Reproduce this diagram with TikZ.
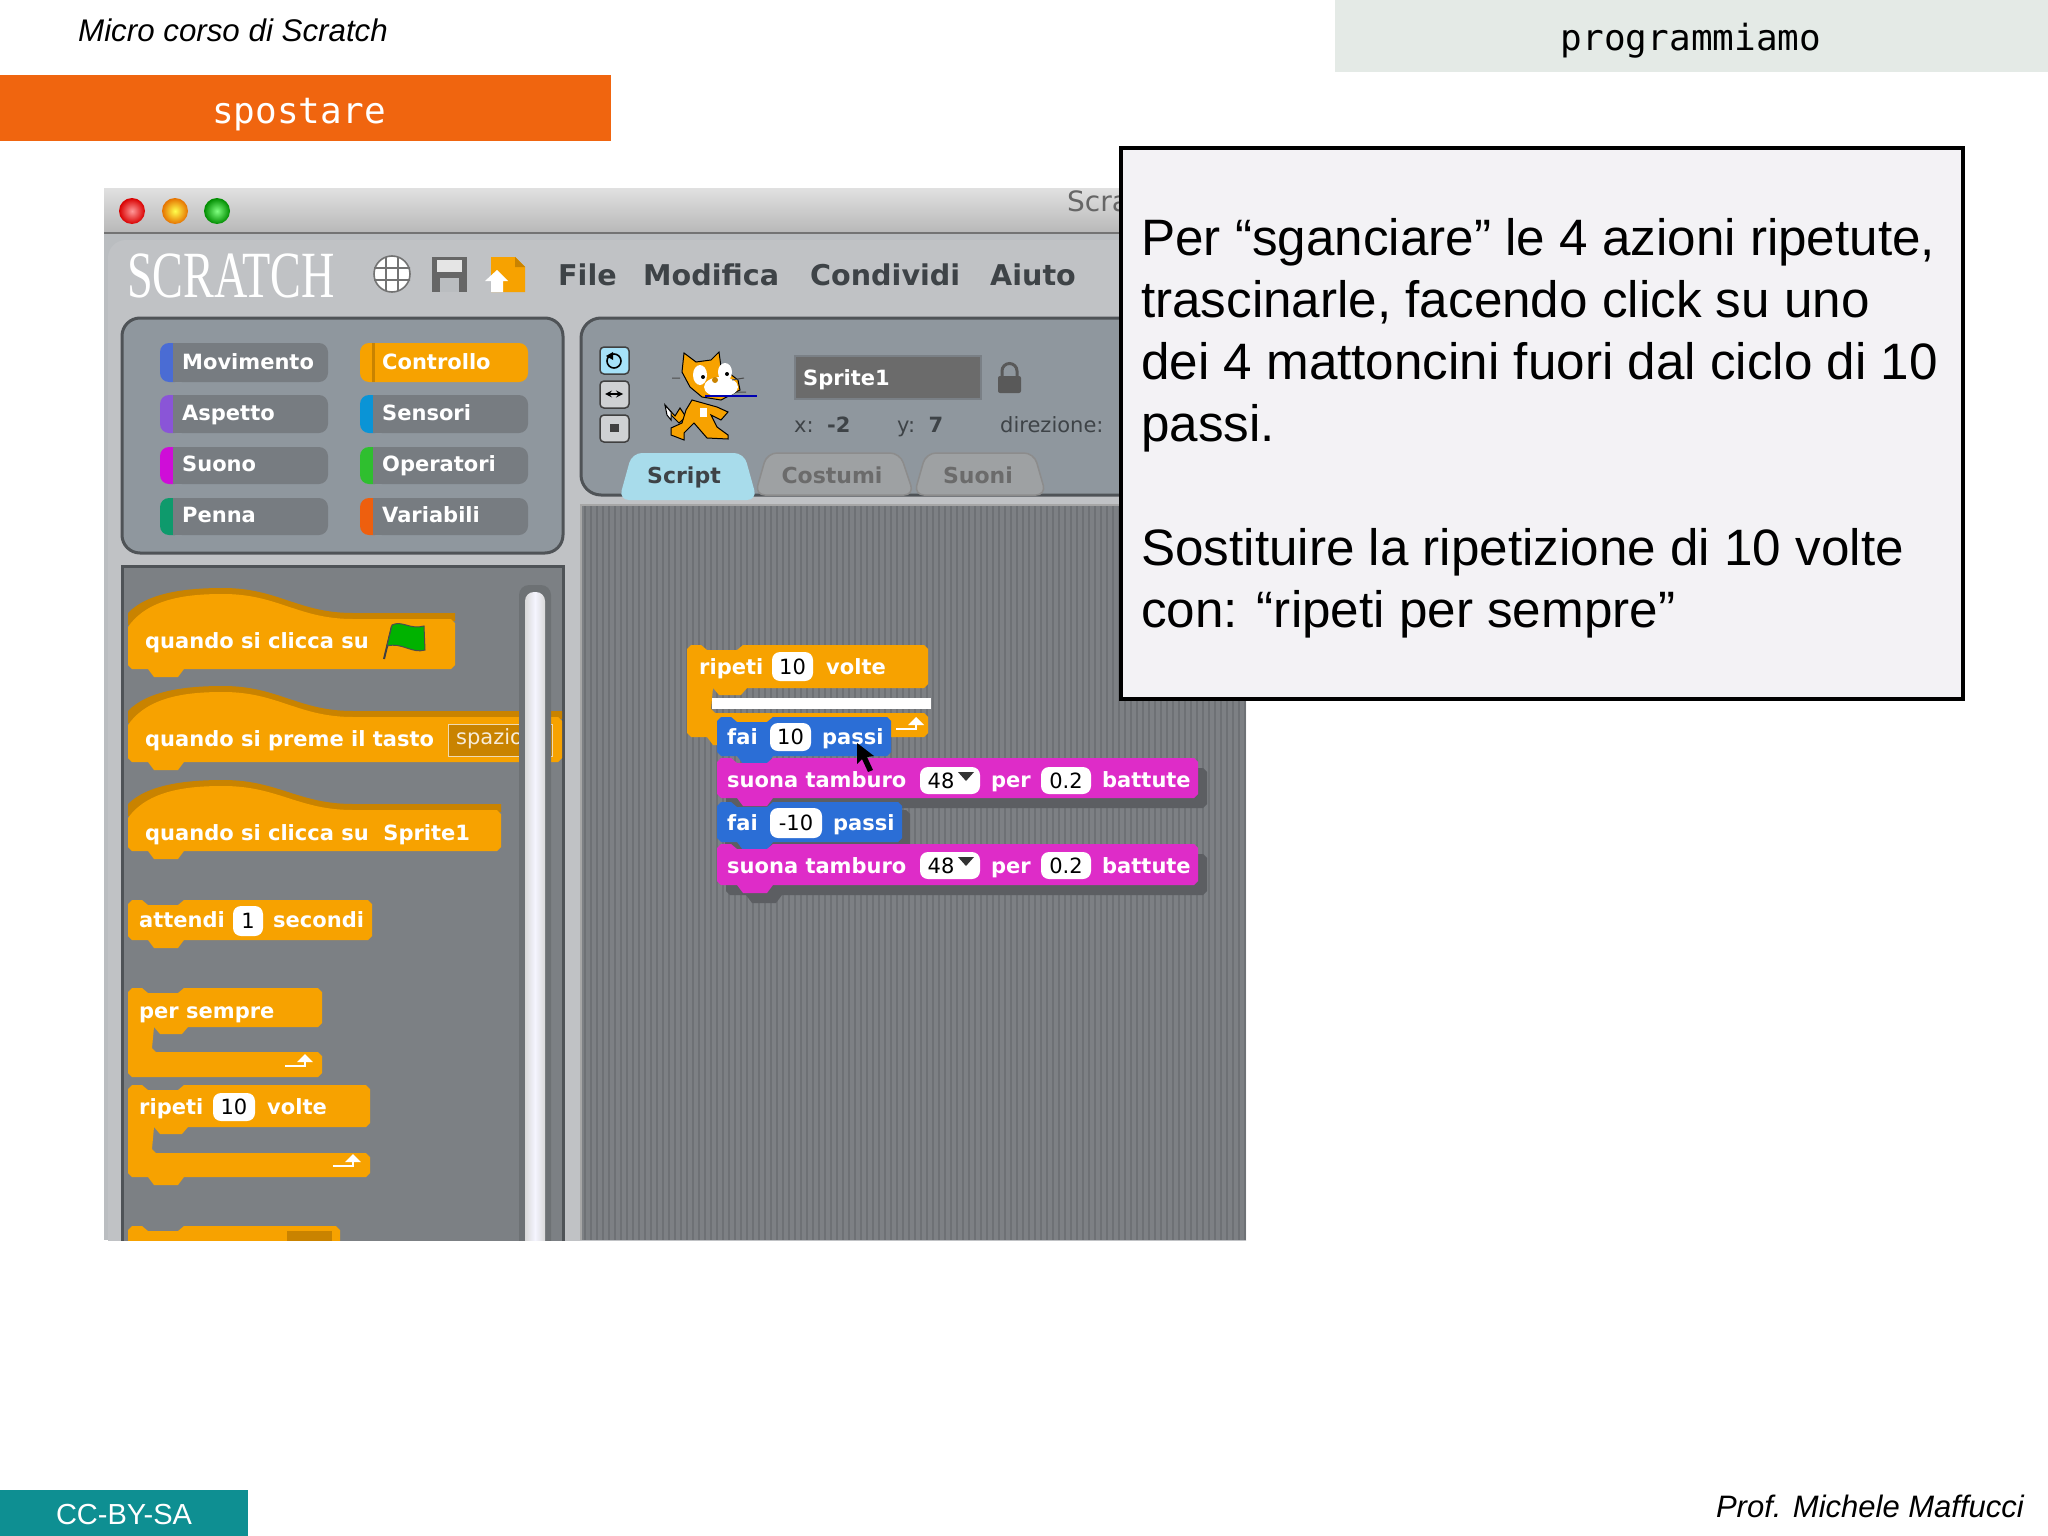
\documentclass[tikz,border=0pt]{standalone}
\usepackage{fontspec}
\usepackage{graphicx}
\setmainfont{Liberation Sans}
\newfontfamily\ui{DejaVu Sans}
\newfontfamily\mono{DejaVu Sans Mono}
\newfontfamily\logo{Liberation Serif}
\definecolor{orbar}{HTML}{F0650F}
\definecolor{topbar}{HTML}{E4EAE6}
\definecolor{teal}{HTML}{0E8F92}
\definecolor{boxfill}{HTML}{F3F2F5}
\definecolor{chrome}{HTML}{BABDC0}
\definecolor{panel}{HTML}{8F979E}
\definecolor{btn}{HTML}{777C81}
\definecolor{blockpanel}{HTML}{7C8084}
\definecolor{pane}{HTML}{7D8084}
\definecolor{stripe}{HTML}{6E7175}
\definecolor{ctl}{HTML}{F7A200}
\definecolor{rim}{HTML}{C98300}
\definecolor{mot}{HTML}{2B6ED6}
\definecolor{snd}{HTML}{DE2CC8}
\definecolor{shd}{HTML}{5C5E62}
\definecolor{inktxt}{HTML}{3E4347}
\definecolor{catmot}{HTML}{4A6CD4}
\definecolor{catlook}{HTML}{8A55D7}
\definecolor{catsnd}{HTML}{CF0DD8}
\definecolor{catpen}{HTML}{0E9A6C}
\definecolor{catsen}{HTML}{0A94D6}
\definecolor{catop}{HTML}{2FBF2F}
\definecolor{catvar}{HTML}{EE5F0E}
\definecolor{tabon}{HTML}{A8DCEB}
\newcounter{lc}\newcounter{fc}
\tikzset{
  ui/.style={inner sep=0pt,anchor=base west,text=white,font=\ui\bfseries\fontsize{21}{21}\selectfont},
  plainui/.style={ui,font=\ui\fontsize{21}{21}\selectfont,text=inktxt},
  menuitem/.style={ui,font=\ui\bfseries\fontsize{28.6}{29}\selectfont,text=inktxt},
  tablab/.style={ui,anchor=base,font=\ui\bfseries\fontsize{22}{22}\selectfont},
  numfld/.style={fill=white,rounded corners=8pt,inner sep=0pt,text=black,font=\ui\fontsize{21}{21}\selectfont},
  palbtn/.style={fill=btn,rounded corners=9pt},
  toolbtn/.style={draw=black!75,line width=1.5pt,rounded corners=4pt,fill=chrome!70!white},
  panelframe/.style={draw=panel!55!black,line width=3pt,fill=panel},
  slidetext/.style={inner sep=0pt,anchor=north west,align=left,text=black,font=\fontsize{51.2}{62}\selectfont},
}
\newcommand{\lab}[4][ui]{\stepcounter{lc}\node[#1] (l\thelc) at (#2,#3+7.5) {#4};}
\newcommand{\fld}[5]{\stepcounter{fc}\node[numfld,minimum width={#3-#1},minimum height={#4-#2}] (f\thefc) at ({(#1+#3)/2},{(#2+#4)/2}) {#5};}
\newcommand{\stackblock}[5]{\path[#5] (#1+4,#2)--(#1+14,#2)--(#1+20,#2+5)--(#1+50,#2+5)--(#1+56,#2)--(#3-4,#2)--(#3,#2+4)--(#3,#4-4)--(#3-4,#4)--(#1+56,#4)--(#1+50,#4+8)--(#1+26,#4+8)--(#1+20,#4)--(#1+4,#4)--(#1,#4-4)--(#1,#2+4)--cycle;}
\newcommand{\cblock}[6]{\path[fill=ctl] (#1+4,#2)--(#1+14,#2)--(#1+20,#2+5)--(#1+50,#2+5)--(#1+56,#2)--(#3-4,#2)--(#3,#2+4)--(#3,#4-4)--(#3-4,#4)--(#1+60,#4)--(#1+54,#4+7)--(#1+32,#4+7)--(#1+26,#4)--(#1+24,#5-4)--(#1+28,#5)--(#3-4,#5)--(#3,#5+4)--(#3,#6-4)--(#3-4,#6)--(#1+56,#6)--(#1+50,#6+8)--(#1+26,#6+8)--(#1+20,#6)--(#1+4,#6)--(#1,#6-4)--(#1,#2+4)--cycle;}
\newcommand{\foreverblock}[6]{\path[fill=ctl] (#1+4,#2)--(#1+14,#2)--(#1+20,#2+5)--(#1+50,#2+5)--(#1+56,#2)--(#3-4,#2)--(#3,#2+4)--(#3,#4-4)--(#3-4,#4)--(#1+60,#4)--(#1+54,#4+7)--(#1+32,#4+7)--(#1+26,#4)--(#1+24,#5-4)--(#1+28,#5)--(#3-4,#5)--(#3,#5+4)--(#3,#6-4)--(#3-4,#6)--(#1+4,#6)--(#1,#6-4)--(#1,#2+4)--cycle;}
\newcommand{\hatblock}[5]{%
 \fill[rim] (#1,#3) .. controls (#1+20,#2+4) and (#1+60,#2) .. (#1+95,#2) .. controls (#1+150,#2) and (#1+170,#3) .. (#1+225,#3) -- (#4,#3) -- (#4,#3+8) -- (#1,#3+12) -- cycle;
 \fill[ctl] (#1,#3+14) .. controls (#1+20,#2+10) and (#1+60,#2+6) .. (#1+95,#2+6) .. controls (#1+150,#2+6) and (#1+170,#3+6) .. (#1+225,#3+6) -- (#4-4,#3+6) -- (#4,#3+10) -- (#4,#5-4) -- (#4-4,#5) -- (#1+56,#5) -- (#1+50,#5+8) -- (#1+26,#5+8) -- (#1+20,#5) -- (#1+4,#5) -- (#1,#5-4) -- cycle;}
\newcommand{\loopar}[2]{\draw[white,line width=2.5pt] (#1,#2)--(#1+20,#2)--(#1+20,#2-5); \fill[white] (#1+12,#2-4)--(#1+20,#2-12)--(#1+28,#2-4)--cycle;}
\newcommand{\palette}[5]{\fill[#5,rounded corners=9pt] (#1,#2) rectangle (#1+24,#4); \fill[btn,rounded corners=9pt] (#1+13,#2) rectangle (#3,#4); \fill[btn] (#1+13,#2) rectangle (#1+24,#4);}
\begin{document}
\begin{tikzpicture}[x=1pt,y=-1pt]
\useasboundingbox (0,0) rectangle (2048,1536);
\fill[white] (0,0) rectangle (2048,1536);
% header and footer
\fill[orbar] (0,75) rectangle (611,141);
\fill[topbar] (1335,0) rectangle (2048,72);
\fill[teal] (0,1490) rectangle (248,1536);
\node[inner sep=0pt,anchor=west,font=\itshape\fontsize{31.3}{32}\selectfont] (course) at (78,30) {Micro corso di Scratch};
\node[inner sep=0pt,text=white,font=\mono\fontsize{36}{36}\selectfont] (topic) at (299,115) {spostare};
\node[inner sep=0pt,font=\mono\fontsize{36}{36}\selectfont] (section) at (1691,41) {programmiamo};
\node[inner sep=0pt,text=white,font=\fontsize{29}{29}\selectfont] (licence) at (124,1515) {CC-BY-SA};
\node[inner sep=0pt,anchor=east,font=\itshape\fontsize{31}{32}\selectfont] (author) at (2024,1506) {Prof. Michele Maffucci};
% screenshot
\begin{scope}
\clip (104,188) rectangle (1246,1240);
\fill[chrome] (104,188) rectangle (1246,1240);
\shade[top color=white!88!black,bottom color=black!28] (104,188) rectangle (1246,233);
\draw[black!55,line width=2pt] (104,233) -- (1246,233);
\shade[inner color=red!40!white,outer color=red!85!black] (132,211) circle (13);
\shade[inner color=yellow!70!white,outer color=orange!90!black] (175,211) circle (13);
\shade[inner color=green!50!white,outer color=green!55!black] (217,211) circle (13);
\lab[{ui,font=\ui\fontsize{28}{28}\selectfont,text=black!60}]{1067}{204}{Scra}
\fill[chrome!92!white,rounded corners=18pt] (108,240) rectangle (1246,1260);
% logo
\node[inner sep=0pt,text=white,font=\logo\fontsize{66}{66}\selectfont] (scratchlogo) at (231,276) {\scalebox{0.70}[1]{SCRATCH}};
% toolbar icons
\fill[white] (392,274) circle (18);
\draw[black!55,line width=1.6pt] (392,274) circle (18) (374,268)--(410,268) (374,280)--(410,280) (386,257)--(386,291) (398,257)--(398,291);
\fill[black!60] (432,257) rectangle (467,292);
\fill[white!90!black] (437,260) rectangle (462,272);
\fill[chrome] (440,278) rectangle (459,292);
\fill[ctl] (491,257)--(515,257)--(525,267)--(525,292)--(491,292)--cycle;
\fill[rim] (515,257)--(525,267)--(515,267)--cycle;
\fill[white] (485,281)--(497,270)--(508,281)--(503,281)--(503,292)--(491,292)--(491,281)--cycle;
% menu
\lab[menuitem]{558}{278}{File}
\lab[menuitem]{643}{278}{Modifica}
\lab[menuitem]{810}{278}{Condividi}
\lab[menuitem]{990}{278}{Aiuto}
% palette
\path[panelframe,rounded corners=18pt] (122,553)--(122,318)--(563,318)--(563,553)--cycle;
\palette{160}{343}{328}{382}{catmot}
\palette{160}{395}{328}{433}{catlook}
\palette{160}{447}{328}{484}{catsnd}
\palette{160}{498}{328}{535}{catpen}
\fill[ctl,rounded corners=9pt] (360,343) rectangle (528,382);
\fill[rim] (372,343) rectangle (375,382);
\palette{360}{395}{528}{433}{catsen}
\palette{360}{447}{528}{484}{catop}
\palette{360}{498}{528}{535}{catvar}
\lab{182}{362}{Movimento}
\lab{182}{413}{Aspetto}
\lab{182}{464}{Suono}
\lab{182}{515}{Penna}
\lab{382}{362}{Controllo}
\lab{382}{413}{Sensori}
\lab{382}{464}{Operatori}
\lab{382}{515}{Variabili}
% block palette
\draw[panel!55!black,line width=3pt,fill=blockpanel] (122,1260) -- (122,566) -- (563,566) -- (563,1260);
\hatblock{128}{588}{613}{455}{669}
\lab{145}{641}{quando si clicca su}
\draw[black!75,line width=2pt] (384,659) -- (392,626);
\path[fill=green!70!black,draw=black!70,line width=1pt] (392,625) .. controls (402,620) and (410,630) .. (424,626) -- (425,650) .. controls (412,654) and (402,642) .. (387,646) -- cycle;
\hatblock{128}{686}{711}{562}{762}
\lab{145}{739}{quando si preme il tasto}
\path[fill=rim,draw=white!70!rim,line width=1pt] (448,724) rectangle (552,756);
\lab[{plainui,text=white!85!rim}]{456}{737}{spazio}
\hatblock{128}{780}{804}{501}{851}
\lab{145}{833}{quando si clicca su\ \ Sprite1}
\stackblock{128}{900}{372}{940}{fill=ctl}
\lab{139}{920}{attendi}
\fld{233}{906}{263}{936}{1}
\lab{273}{920}{secondi}
\foreverblock{128}{988}{322}{1027}{1052}{1077}
\lab{139}{1011}{per sempre}
\loopar{285}{1066}
\cblock{128}{1085}{370}{1127}{1153}{1177}
\lab{139}{1107}{ripeti}
\fld{213}{1093}{255}{1121}{10}
\lab{267}{1107}{volte}
\loopar{333}{1166}
\stackblock{128}{1226}{340}{1290}{fill=ctl}
\fill[rim] (287,1231) rectangle (332,1260);
% scrollbar
\fill[black!12!blockpanel,rounded corners=10pt] (519,585) rectangle (551,1270);
\shade[left color=black!15,right color=black!15,middle color=white!96!blue,rounded corners=9pt] (525,592) rectangle (545,1270);
% sprite panel
\path[panelframe,rounded corners=20pt] (581,495)--(581,318)--(1300,318)--(1300,495)--cycle;
\path[toolbtn,fill=cyan!35!white] (600,347) rectangle (629,374);
\path[toolbtn] (600,381) rectangle (629,408);
\path[toolbtn] (600,415) rectangle (629,442);
\draw[black,line width=1.6pt] (614,361) circle (7);
\fill[black] (606,356)--(613,352)--(613,360)--cycle;
\draw[black,line width=2pt,<->,>=stealth] (605,394)--(623,394);
\fill[black!75] (610,424) rectangle (619,432);
% cat
\begin{scope}[draw=black,line width=1pt]
\path[fill=ctl,draw] (665,405)--(671,415)--(679,423)--(686,417)--(680,408)--(675,416)--cycle;
\path[fill=white,draw] (665,405)--(671,412)--(671,420)--(667,415)--cycle;
\path[fill=ctl,draw] (692,400)--(717,407)--(728,412)--(721,420)--(711,415)--(717,427)--(728,435)--(728,439)--(707,438)--(694,423)--(684,433)--(684,440)--(671,435)--(671,428)--(682,423)--(686,410)--cycle;
\fill[white] (700,408) rectangle (707,417);
\path[fill=ctl,draw] (684,353)--(696,362)--(711,360)--(719,352)--(721,367)--(738,380)--(740,390)--(721,400)--(702,397)--(690,387)--(682,372)--cycle;
\fill[white] (721,387) ellipse (17 and 10);
\fill[white] (700,375) ellipse (7 and 10);
\fill[white] (725,372) ellipse (7 and 9);
\fill[black] (703,377) circle (2) (727,374) circle (2);
\fill[rim] (715,380) circle (3);
\draw[black!70,line width=1pt] (732,380)--(744,378) (680,378)--(672,378) (736,392)--(746,392);
\end{scope}
\draw[blue!70!black,line width=2.5pt] (705,396) -- (757,396);
% sprite fields
\path[fill=black!58,draw=panel!85!black,line width=2.5pt] (795,356) rectangle (981,399);
\lab{803}{378}{Sprite1}
\fill[black!65,rounded corners=2pt] (998,376) rectangle (1021,393);
\draw[black!65,line width=3pt] (1002,377) -- (1002,371) arc (180:360:7.5) -- (1017,377);
\lab[plainui]{794}{425}{x:\ \ \textbf{-2}}
\lab[plainui]{897}{425}{y:\ \ \textbf{7}}
\lab[plainui]{1000}{425}{direzione:}
% tabs
\path[fill=chrome!85!black,draw=black!45,line width=1.5pt,rounded corners=10pt] (755,495)--(767,453)--(900,453)--(914,495)--cycle;
\path[fill=chrome!85!black,draw=black!45,line width=1.5pt,rounded corners=10pt] (914,495)--(926,453)--(1034,453)--(1046,495)--cycle;
\path[fill=tabon,rounded corners=10pt] (619,500)--(632,453)--(744,453)--(757,500)--cycle;
\lab[{tablab,text=inktxt}]{684}{476}{Script}
\lab[{tablab,text=black!58}]{832}{476}{Costumi}
\lab[{tablab,text=black!58}]{978}{476}{Suoni}
% script pane
\fill[pane] (581,505) rectangle (1246,1240);
\draw[black!35,line width=2pt] (581,1240) -- (581,505) -- (1246,505);
\foreach \sx in {585,591,...,1246} {\draw[stripe,line width=2pt] (\sx,506) -- (\sx,1240);}
% script blocks
\cblock{687}{645}{928}{688}{713}{737}
\lab{699}{667}{ripeti}
\fld{772}{652}{813}{681}{10}
\lab{826}{667}{volte}
\fill[white] (712,698) rectangle (931,709);
\loopar{896}{729}
\stackblock{717}{717}{891}{756}{fill=mot}
\lab{727}{737}{fai}
\fld{770}{723}{811}{751}{10}
\lab{822}{737}{passi}
\stackblock{717}{758}{1198}{798}{fill=shd,shift={(9pt,-10pt)}}
\stackblock{717}{758}{1198}{798}{fill=snd}
\lab{727}{780}{suona tamburo}
\fld{920}{767}{980}{794}{\hspace*{-18pt}48}
\fill[black!80] (958,772)--(974,772)--(966,781)--cycle;
\lab{991}{780}{per}
\fld{1041}{767}{1091}{794}{0.2}
\lab{1102}{780}{battute}
\stackblock{717}{802}{902}{842}{fill=shd,shift={(8pt,-8pt)}}
\stackblock{717}{802}{902}{842}{fill=mot}
\lab{727}{823}{fai}
\fld{770}{808}{822}{838}{-10}
\lab{833}{823}{passi}
\stackblock{717}{844}{1198}{885}{fill=shd,shift={(9pt,-10pt)}}
\stackblock{717}{844}{1198}{885}{fill=snd}
\lab{727}{866}{suona tamburo}
\fld{920}{852}{980}{879}{\hspace*{-18pt}48}
\fill[black!80] (958,857)--(974,857)--(966,866)--cycle;
\lab{991}{866}{per}
\fld{1041}{852}{1091}{879}{0.2}
\lab{1102}{866}{battute}
\fill[black] (857,743)--(857,764)--(862,759)--(868,772)--(873,770)--(867,757)--(874,756)--cycle;
\end{scope}
% text box
\path[fill=boxfill,draw=black,line width=4pt] (1121,148) rectangle (1963,699);
\node[slidetext] (para1) at (1141,218.5) {Per “sganciare” le 4 azioni ripetute,\\trascinarle, facendo click su uno\\dei 4 mattoncini fuori dal ciclo di 10\\passi.};
\node[slidetext] (para2) at (1141,528.5) {Sostituire la ripetizione di 10 volte\\con: “ripeti per sempre”};
\end{tikzpicture}
\end{document}
